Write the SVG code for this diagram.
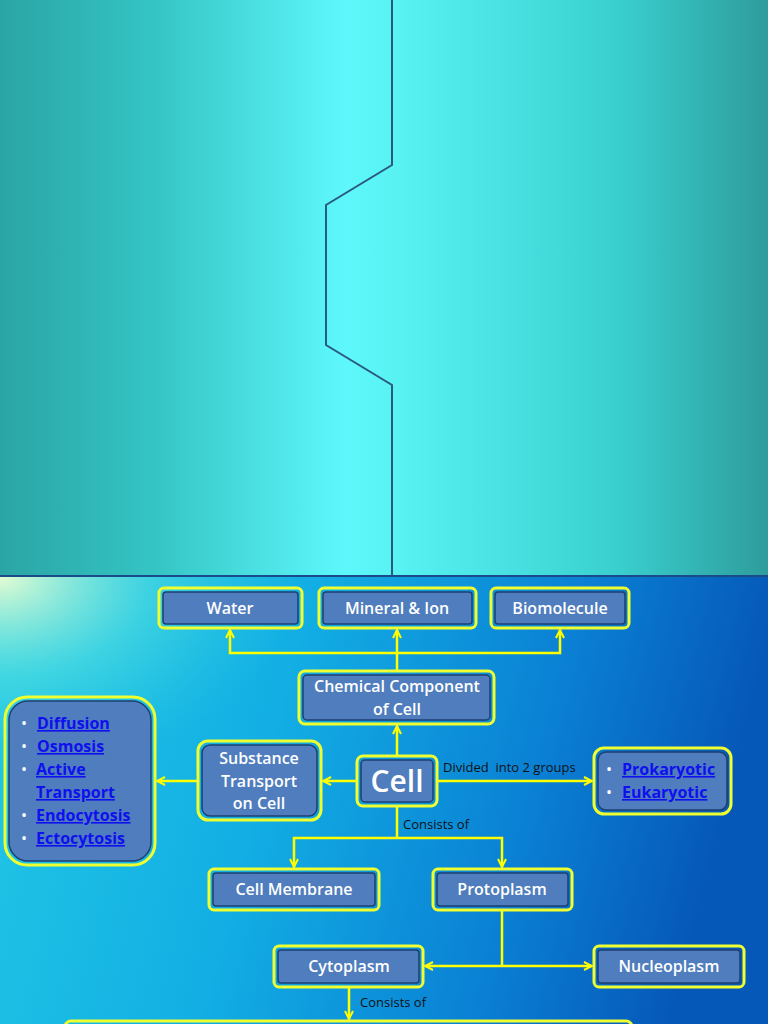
<svg xmlns="http://www.w3.org/2000/svg" width="768" height="1024" viewBox="0 0 768 1024">
<defs>
<linearGradient id="top" x1="0" x2="1" y1="0" y2="0">
<stop offset="0" stop-color="#2aa5a5"/><stop offset="0.2" stop-color="#35c4c4"/><stop offset="0.45" stop-color="#5ef8fc"/><stop offset="0.52" stop-color="#58f2f2"/><stop offset="0.8" stop-color="#3ad0d0"/><stop offset="1" stop-color="#2e9c9c"/>
</linearGradient>
<linearGradient id="bot" x1="0" y1="0" x2="1" y2="0.15">
<stop offset="0" stop-color="#22c8e4"/><stop offset="0.4" stop-color="#12aee4"/><stop offset="0.75" stop-color="#0a80d4"/><stop offset="1" stop-color="#0658b8"/>
</linearGradient>
<radialGradient id="glow" cx="0" cy="0" r="1">
<stop offset="0" stop-color="#f0ffd0" stop-opacity="0.95"/><stop offset="0.5" stop-color="#60e8e0" stop-opacity="0.5"/><stop offset="1" stop-color="#30d0e0" stop-opacity="0"/>
</radialGradient>
<marker id="ar" viewBox="0 0 10 10" refX="9" refY="5" markerWidth="4" markerHeight="4" orient="auto-start-reverse">
<path d="M1,1 L9,5 L1,9" fill="none" stroke="#ffff00" stroke-width="2"/>
</marker>
<style>
.b{fill:#4f7dbd;stroke:#1f3f70;stroke-width:1.5}
.o{fill:none;stroke:#f0ff30;stroke-width:3}
.t{font-family:"Open Sans","Liberation Sans",sans-serif;font-size:16px;font-weight:600;fill:#fff;text-anchor:middle}
.l{font-family:"Open Sans","Liberation Sans",sans-serif;font-size:16px;font-weight:bold;fill:#1010ee;text-decoration:underline}
.d{font-family:"Open Sans","Liberation Sans",sans-serif;font-size:16px;fill:#fff}
.c{fill:none;stroke:#ffff00;stroke-width:2.5}
.s{font-family:"Open Sans","Liberation Sans",sans-serif;font-size:13px;fill:#111}
</style>
</defs>
<rect width="768" height="576" fill="url(#top)"/>
<path d="M392,0 V165 L326,205 V345 L392,385 V576" fill="none" stroke="#2a5a80" stroke-width="2"/>
<rect y="576" width="768" height="448" fill="url(#bot)"/>
<rect y="576" width="300" height="200" fill="url(#glow)"/>
<line x1="0" y1="576" x2="768" y2="576" stroke="#1a4a8a" stroke-width="2"/>
<g id="connectors">
<path class="c" d="M397,671 V630" marker-end="url(#ar)"/>
<path class="c" d="M230,630 V653 H560 V630" marker-start="url(#ar)" marker-end="url(#ar)"/>
<path class="c" d="M397,756 V726" marker-end="url(#ar)"/>
<path class="c" d="M357,781 H323" marker-end="url(#ar)"/>
<path class="c" d="M198,781 H157" marker-end="url(#ar)"/>
<path class="c" d="M437,781 H592" marker-end="url(#ar)"/>
<path class="c" d="M397,806 V838"/>
<path class="c" d="M294,867 V838 H502 V867" marker-start="url(#ar)" marker-end="url(#ar)"/>
<path class="c" d="M502,910 V966"/>
<path class="c" d="M425,966 H592" marker-start="url(#ar)" marker-end="url(#ar)"/>
<path class="c" d="M349,987 V1019" marker-end="url(#ar)"/>
<text class="s" x="443" y="772" xml:space="preserve">Divided  into 2 groups</text>
<text class="s" x="403" y="829">Consists of</text>
<text class="s" x="360" y="1007">Consists of</text>
</g>
<g id="water"><rect class="o" x="159" y="588" width="143" height="40" rx="5"/><rect class="b" x="163" y="592" width="135" height="32" rx="3"/><text class="t" x="230" y="614">Water</text></g>
<g id="mineral"><rect class="o" x="319" y="588" width="157" height="40" rx="5"/><rect class="b" x="323" y="592" width="149" height="32" rx="3"/><text class="t" x="397" y="614">Mineral &amp; Ion</text></g>
<g id="bio"><rect class="o" x="491" y="588" width="138" height="40" rx="5"/><rect class="b" x="495" y="592" width="130" height="32" rx="3"/><text class="t" x="560" y="614">Biomolecule</text></g>
<g id="chem"><rect class="o" x="299" y="671" width="195" height="53" rx="6"/><rect class="b" x="303" y="675" width="187" height="45" rx="4"/><text class="t" x="397" y="692">Chemical Component</text><text class="t" x="397" y="715">of Cell</text></g>
<g id="subst"><rect class="o" x="198" y="741" width="123" height="79" rx="10"/><rect class="b" x="202" y="745" width="115" height="71" rx="8"/><text class="t" x="259" y="764">Substance</text><text class="t" x="259" y="787">Transport</text><text class="t" x="259" y="809">on Cell</text></g>
<g id="cell"><rect class="o" x="357" y="756" width="80" height="50" rx="6"/><rect class="b" x="361" y="760" width="72" height="42" rx="4"/><text class="t" x="397" y="792" style="font-size:30px">Cell</text></g>
<g id="list"><rect class="o" x="5" y="697" width="150" height="168" rx="22"/><rect class="b" x="9" y="701" width="142" height="160" rx="19"/>
<g class="d"><text x="21" y="729">•</text><text x="21" y="752">•</text><text x="21" y="775">•</text><text x="21" y="821">•</text><text x="21" y="844">•</text></g>
<text class="l" x="37" y="729">Diffusion</text><text class="l" x="37" y="752">Osmosis</text><text class="l" x="36" y="775">Active</text><text class="l" x="36" y="798">Transport</text><text class="l" x="36" y="821">Endocytosis</text><text class="l" x="36" y="844">Ectocytosis</text></g>
<g id="groups"><rect class="o" x="594" y="748" width="137" height="66" rx="10"/><rect class="b" x="598" y="752" width="129" height="58" rx="8"/>
<g class="d"><text x="606" y="775">•</text><text x="606" y="798">•</text></g><text class="l" x="622" y="775">Prokaryotic</text><text class="l" x="622" y="798">Eukaryotic</text></g>
<g id="membrane"><rect class="o" x="209" y="869" width="170" height="41" rx="5"/><rect class="b" x="213" y="873" width="162" height="33" rx="3"/><text class="t" x="294" y="895">Cell Membrane</text></g>
<g id="proto"><rect class="o" x="433" y="869" width="139" height="41" rx="5"/><rect class="b" x="437" y="873" width="131" height="33" rx="3"/><text class="t" x="502" y="895">Protoplasm</text></g>
<g id="cyto"><rect class="o" x="274" y="946" width="149" height="41" rx="5"/><rect class="b" x="278" y="950" width="141" height="33" rx="3"/><text class="t" x="349" y="972">Cytoplasm</text></g>
<g id="nucleo"><rect class="o" x="594" y="946" width="150" height="41" rx="5"/><rect class="b" x="598" y="950" width="142" height="33" rx="3"/><text class="t" x="669" y="972">Nucleoplasm</text></g>
<g id="bottom"><rect class="o" x="65" y="1021" width="567" height="30" rx="6"/><rect class="b" x="69" y="1025" width="559" height="22" rx="4"/></g>
</svg>
